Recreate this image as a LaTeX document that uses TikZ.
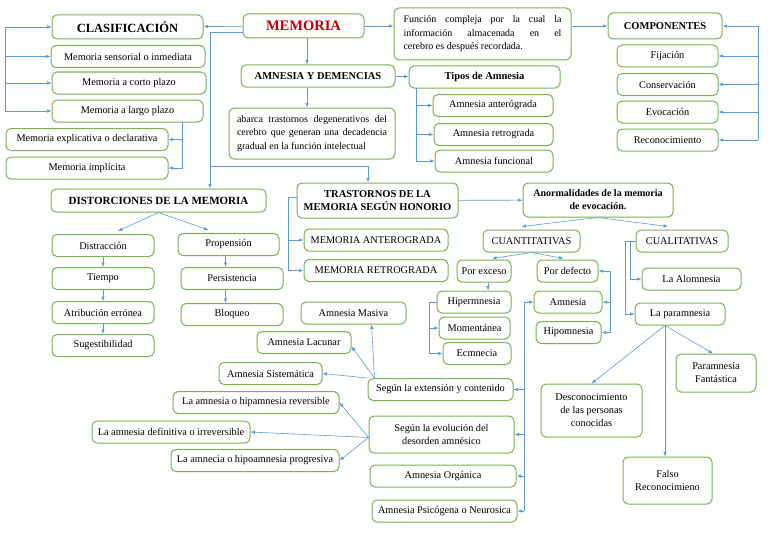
\documentclass[tikz,border=0pt]{standalone}
\usepackage{fontspec}
\setmainfont{Liberation Serif}
\usetikzlibrary{arrows.meta}
\definecolor{boxgreen}{RGB}{122,178,84}
\definecolor{linkblue}{RGB}{91,155,213}
\definecolor{titlered}{RGB}{192,0,0}
\tikzstyle{cell}=[draw=boxgreen,line width=1pt,rounded corners=5pt,fill=white,inner sep=1pt,minimum height=22pt,align=center,font=\fontsize{10.3}{13}\selectfont]
\tikzstyle{head}=[cell,font=\fontsize{10.5}{13}\selectfont\bfseries]
\tikzstyle{conn}=[draw=linkblue,line width=0.6pt,-{Latex[length=4.5pt,width=3.5pt]}]
\tikzstyle{rail}=[draw=linkblue,line width=0.6pt]

\begin{document}
\begin{tikzpicture}[x=1pt,y=-1pt]
    \useasboundingbox (0,0) rectangle (768,543);
    % Titles and headings
    \node[head,minimum width=121,minimum height=24,text=titlered,font=\fontsize{14.5}{16}\selectfont\bfseries] (mem) at (303.5,26) {MEMORIA};
    \node[head,minimum width=151,minimum height=24,font=\fontsize{12.5}{14}\selectfont\bfseries] (clas) at (127.5,27) {CLASIFICACIÓN};
    \node[head,minimum width=154] (amdem) at (318,76) {AMNESIA Y DEMENCIAS};
    \node[head,minimum width=151] (tipos) at (484.5,77) {Tipos de Amnesia};
    \node[head,minimum width=114,minimum height=26] (comp) at (665,26) {COMPONENTES};
    \node[head,minimum width=215,minimum height=23,font=\fontsize{11}{13}\selectfont\bfseries] (dist) at (158.5,200.5) {DISTORCIONES DE LA MEMORIA};
    \node[head,minimum width=161,minimum height=35] (tras) at (377.5,200.5) {TRASTORNOS DE LA\\MEMORIA SEGÚN HONORIO};
    \node[head,minimum width=150,minimum height=34,font=\fontsize{10}{13}\selectfont\bfseries] (anor) at (598,200) {Anormalidades de la memoria\\de evocación.};
    % Boxes with longer texts
    \node[cell,minimum width=177,minimum height=52,text width=158,align=justify,font=\fontsize{10}{13.5}\selectfont] (func) at (482.5,34) {Función compleja por la cual la\linebreak información almacenada en el\linebreak cerebro es después recordada.};
    \node[cell,minimum width=166,minimum height=51,text width=150,align=justify,font=\fontsize{10}{13.5}\selectfont] (abarca) at (312,133.5) {abarca trastornos degenerativos del\linebreak cerebro que generan una decadencia\linebreak gradual en la función intelectual};
    \node[cell,minimum width=145,minimum height=37] (sevo) at (441.5,434.5) {Según la evolución del\\desorden amnésico};
    \node[cell,minimum width=80,minimum height=38] (pfan) at (716,373) {Paramnesia\\Fantástica};
    \node[cell,minimum width=101,minimum height=53] (desc) at (591.5,410.5) {Desconocimiento\\de las personas\\conocidas};
    \node[cell,minimum width=89,minimum height=47] (falso) at (667.5,480.5) {Falso\\Reconocimieno};
    % One line boxes
    \foreach \pos/\name/\w/\txt in {{(128,56.5)/sens/154/Memoria sensorial o inmediata},
        {(129,83)/corto/154/Memoria a corto plazo}, {(127.5,111)/largo/151/Memoria a largo plazo},
        {(87,139.5)/expl/162/Memoria explicativa o declarativa}, {(87,168)/impl/162/Memoria implícita},
        {(667.5,56)/fij/101/Fijación}, {(667.5,84.5)/cons/101/Conservación},
        {(667.5,112)/evoc/101/Evocación}, {(667.5,140)/reco/101/Reconocimiento},
        {(493,105.5)/ante/120/Amnesia anterógrada}, {(493.5,134.5)/retro/119/Amnesia retrograda},
        {(494,161)/funcl/118/Amnesia funcional},
        {(103,245.5)/distr/102/Distracción}, {(228.5,244.5)/prop/101/Propensión},
        {(103,278.5)/tiem/102/Tiempo}, {(232,278.5)/pers/102/Persistencia},
        {(103,312.5)/atri/102/Atribución errónea}, {(232,314.5)/bloq/102/Bloqueo},
        {(103,345.5)/suge/102/Sugestibilidad},
        {(376,240)/mante/144/MEMORIA ANTEROGRADA}, {(376,270.5)/mretro/144/MEMORIA RETROGRADA},
        {(531.5,241)/cuan/97/CUANTITATIVAS}, {(682,241)/cual/92/CUALITATIVAS},
        {(484,271)/exce/54/Por exceso}, {(567.5,271)/defe/61/Por defecto},
        {(474,302)/hipe/74/Hipermnesia}, {(474.5,328)/mome/71/Momentánea},
        {(477,353.5)/ecmn/68/Ecmnecia}, {(568,302)/amne/68/Amnesia},
        {(568.5,332.5)/hipo/65/Hipomnesia}, {(691.5,279)/alom/99/La Alomnesia},
        {(680,314)/para/90/La paramnesia},
        {(440.5,389.5)/sext/145/Según la extensión y contenido},
        {(443,476)/orga/146/Amnesia Orgánica}, {(444.5,511)/psic/145/Amnesia Psicógena o Neurosica},
        {(353.5,313)/masi/105/Amnesia Masiva}, {(304,342.5)/lacu/94/Amnesia Lacunar},
        {(270.5,373.5)/sist/103/Amnesia Sistemática},
        {(256,402.5)/reve/166/La amnesia o hipamnesia reversible},
        {(171,432)/defi/158/La amnesia definitiva o irreversible},
        {(255,460.5)/prog/168/La amnecia o hipoamnesia progresiva}}
        \node[cell,minimum width=\w] (\name) at \pos {\txt};
    % Coordinates for the bracket lines
    \coordinate (lb) at (5,27);
    \coordinate (rb) at (758,26);
    \coordinate (lgb) at (182,122);
    \coordinate (tb) at (416,88);
    \coordinate (mj) at (210,32);
    \coordinate (tj) at (368,166);
    \coordinate (trb) at (288,197);
    \coordinate (hb) at (429,302);
    \coordinate (db) at (610,271);
    \coordinate (ab) at (524,302);
    \coordinate (cb1) at (630,241);
    \coordinate (cb2) at (625,241);
    \coordinate (mx) at ([xshift=3.5pt]mem.south);
    \coordinate (ps) at ([xshift=-15pt]para.south);
    \coordinate (se) at ([xshift=7pt]sext.north west);
    \coordinate (sv) at ([yshift=-3pt]sevo.west);
    % Connectors of the upper part
    \draw[conn] (mem) -- (clas);
    \draw[conn] (mem.east) -- (mem.east -| func.west);
    \draw[conn] (func.east |- comp) -- (comp);
    \draw[conn] (mx) -- (mx |- amdem.north);
    \draw[conn] (mx |- amdem.south) -- (mx |- abarca.north);
    \draw[conn] (amdem) -- (tipos);
    \foreach \n in {ante,retro,funcl}
        \draw[conn] (tb) |- (\n);
    \draw[rail] (lb) -- (lb |- largo);
    \foreach \n in {clas,sens,corto,largo}
        \draw[conn] (lb |- \n) -- (\n);
    \draw[rail] (rb) -- (rb |- reco);
    \foreach \n in {comp,fij,cons,evoc,reco}
        \draw[conn] (rb |- \n) -- (\n);
    \foreach \n in {expl,impl}
        \draw[conn] (lgb) |- (\n);
    \draw[conn] (mem.west |- mj) -- (mj) -- (mj |- dist.north);
    \draw[conn] (mj |- tj) -- (tj) -- (tj |- tras.north);
    % Distorciones
    \draw[conn] (dist.south) -- ([xshift=15pt,yshift=3pt]distr.north);
    \draw[conn] (dist.south) -- ([xshift=-20pt,yshift=3pt]prop.north);
    \foreach \source/\dest in {distr/tiem, tiem/atri, atri/suge}
        \draw[conn] (\source) -- (\dest);
    \draw[conn] ([xshift=-3pt]prop.south) -- ([xshift=-3pt]prop.south |- pers.north);
    \draw[conn] ([xshift=-3pt]prop.south |- pers.south) -- ([xshift=-3pt]prop.south |- bloq.north);
    % Trastornos
    \draw[rail] (tras.west |- trb) -- (trb) -- (trb |- mretro);
    \foreach \n in {mante,mretro}
        \draw[conn] (trb |- \n) -- (\n);
    \draw[conn] (tras) -- (anor);
    \draw[conn] (anor.south) -- ([xshift=-10pt,yshift=3pt]cuan.north);
    \draw[conn] (anor.south) -- ([xshift=-14pt,yshift=3pt]cual.north);
    \draw[conn] (cuan.south) -- ([xshift=8pt,yshift=1pt]exce.north);
    \draw[conn] (cuan.south) -- ([xshift=-4pt,yshift=1pt]defe.north);
    \draw[conn] ([xshift=4pt]exce.south) -- ([xshift=4pt]exce.south |- hipe.north);
    \draw[rail] (hipe) -- (hb);
    \foreach \n in {mome,ecmn}
        \draw[conn] (hb) |- (\n);
    \draw[rail] (db) -- (db |- hipo);
    \foreach \n in {defe,amne,hipo}
        \draw[conn] (db |- \n) -- (\n);
    \draw[rail] (ab) -- (ab |- psic);
    \foreach \n in {amne,sext,sevo,orga,psic}
        \draw[conn] (ab |- \n) -- (\n);
    \draw[conn] (cual) -- (cb1) |- (alom);
    \draw[conn] (cual) -- (cb2) |- (para);
    \draw[conn] (ps) -- (desc.north);
    \draw[conn] (ps) -- (ps |- falso.north);
    \draw[conn] (ps) -- ([xshift=-3pt]pfan.north);
    % Tipos de amnesia
    \draw[conn] (se) -- ([xshift=18pt]masi.south);
    \draw[conn] (se) -- ([yshift=-4pt]lacu.east);
    \draw[conn] (sext.north west) -- (sist.east);
    \foreach \n in {reve,defi,prog}
        \draw[conn] (sv) -- (\n.east);
\end{tikzpicture}
\end{document}
